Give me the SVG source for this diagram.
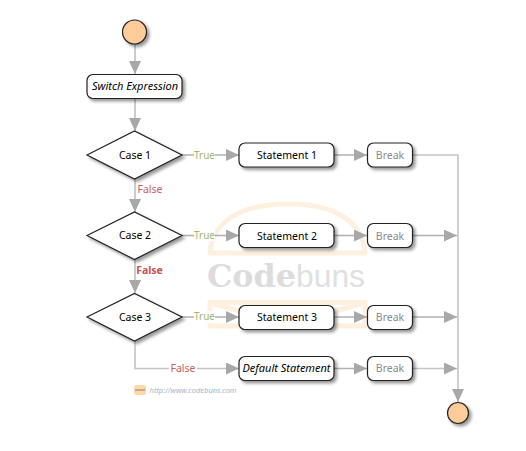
<svg xmlns="http://www.w3.org/2000/svg" width="526" height="451" viewBox="0 0 526 451">
<style>
text{font-family:"Noto Sans","DejaVu Sans",sans-serif;font-size:10.5px;text-anchor:middle}
.box{fill:#fff;stroke:#222;stroke-width:1.2}
.dot{fill:#fecc99;stroke:#222;stroke-width:1.2}
.c{fill:none;stroke:#b0b0b0;stroke-width:1.3}
.l{fill:none;stroke:#c4c4c4;stroke-width:1.6}
.n{fill:#000}
.i{font-style:italic;fill:#000;font-size:11px}
.b{fill:#8a8a8a}
.t{fill:#a3b86c;font-size:10px}
.f{fill:#c9605f;font-size:10.5px}
.wm{fill:none;stroke:#fdf0df;stroke-width:5;stroke-linejoin:round}
</style>
<defs>
<marker id="a" markerUnits="userSpaceOnUse" markerWidth="14" markerHeight="14" refX="13" refY="6" orient="auto"><path d="M0 0L13 6L0 12Z" fill="#a8a8a8"/></marker>
<filter id="s" x="-20%" y="-30%" width="150%" height="170%"><feDropShadow dx="2.5" dy="2.5" stdDeviation="1.5" flood-color="#000" flood-opacity=".4"/></filter>
</defs>
<g id="watermark">
<path class="wm" d="M210 253C212 222 240 204 288 204C336 204 363 222 365 253Z"/>
<path class="wm" d="M210 302.500H365V326H210Z"/>
<path class="wm" d="M214 304L287.500 324L361 304"/>
<text x="207" y="287" style="text-anchor:start;font-family:'DejaVu Serif',serif;font-size:31px;font-weight:bold;fill:#dcdcdc" textLength="89" lengthAdjust="spacingAndGlyphs">Code</text>
<text x="296" y="287" style="text-anchor:start;font-family:'Liberation Sans',sans-serif;font-size:32px;fill:#e0e0e0" textLength="69" lengthAdjust="spacingAndGlyphs">buns</text>
</g>
<g id="connectors">
<path class="c" d="M135 44V74" marker-end="url(#a)"/>
<path class="c" d="M135 98V131" marker-end="url(#a)"/>
<path class="c" d="M135 179V212" marker-end="url(#a)"/>
<path class="c" d="M135 259V293" marker-end="url(#a)"/>
<path class="c" d="M182 155H239" marker-end="url(#a)"/>
<path class="c" d="M182 235.500H239" marker-end="url(#a)"/>
<path class="c" d="M182 317H239" marker-end="url(#a)"/>
<path class="l" d="M135 341V368.500H239" marker-end="url(#a)"/>
<path class="c" d="M334 155H367" marker-end="url(#a)"/>
<path class="c" d="M334 235.500H367" marker-end="url(#a)"/>
<path class="c" d="M334 317H367" marker-end="url(#a)"/>
<path class="c" d="M334 368.500H367" marker-end="url(#a)"/>
<path class="l" d="M412 155H458V402" marker-end="url(#a)"/>
<path class="c" d="M412 235.500H457" marker-end="url(#a)"/>
<path class="c" d="M412 317H457" marker-end="url(#a)"/>
<path class="l" d="M412 368.500H457" marker-end="url(#a)"/>
<rect x="194" y="149" width="21" height="12" fill="#fff"/>
<rect x="194" y="229" width="21" height="12" fill="#fff" fill-opacity="0.9"/>
<rect x="194" y="311" width="21" height="12" fill="#fff" fill-opacity="0.9"/>
<rect x="169" y="362" width="28" height="13" fill="#fff"/>
<text class="t" x="204.500" y="158.500">True</text>
<text class="t" x="204.500" y="238.500">True</text>
<text class="t" x="204.500" y="320">True</text>
<text class="f" x="150" y="192.500">False</text>
<text class="f" x="149.500" y="273.500" style="font-weight:bold;fill:#c8524c">False</text>
<text class="f" x="183" y="372">False</text>
</g>
<g id="start"><circle class="dot" cx="134.500" cy="32" r="12" filter="url(#s)"/></g>
<g id="switch"><rect class="box" x="87" y="74.500" width="95" height="24" rx="6" filter="url(#s)"/><text class="i" x="135" y="90">Switch Expression</text></g>
<g id="case1"><path class="box" d="M87 155L134.500 131L182 155L134.500 179Z" filter="url(#s)"/><text class="n" x="135" y="158.500">Case 1</text></g>
<g id="case2"><path class="box" d="M87 235.500L134.500 212L182 235.500L134.500 259.500Z" filter="url(#s)"/><text class="n" x="135" y="239">Case 2</text></g>
<g id="case3"><path class="box" d="M87 317L134.500 293.500L182 317L134.500 341Z" filter="url(#s)"/><text class="n" x="135" y="320.500">Case 3</text></g>
<g id="statement1"><rect class="box" x="239" y="143" width="95" height="24" rx="6" filter="url(#s)"/><text class="n" x="287" y="159">Statement 1</text></g>
<g id="statement2"><rect class="box" x="239" y="223.500" width="95" height="24" rx="6" filter="url(#s)"/><text class="n" x="287" y="239.500">Statement 2</text></g>
<g id="statement3"><rect class="box" x="239" y="305.500" width="95" height="24" rx="6" filter="url(#s)"/><text class="n" x="287" y="321">Statement 3</text></g>
<g id="default"><rect class="box" x="239" y="356.500" width="95" height="24" rx="6" filter="url(#s)"/><text class="i" x="286.500" y="372">Default Statement</text></g>
<g id="break1"><rect class="box" x="367.500" y="143" width="45" height="24" rx="6" filter="url(#s)"/><text class="b" x="390" y="159">Break</text></g>
<g id="break2"><rect class="box" x="367.500" y="223.500" width="45" height="24" rx="6" filter="url(#s)"/><text class="b" x="390" y="239.500">Break</text></g>
<g id="break3"><rect class="box" x="367.500" y="305.500" width="45" height="24" rx="6" filter="url(#s)"/><text class="b" x="390" y="321">Break</text></g>
<g id="break4"><rect class="box" x="367.500" y="356.500" width="45" height="24" rx="6" filter="url(#s)"/><text class="b" x="390" y="372">Break</text></g>
<g id="end"><circle class="dot" cx="458" cy="413" r="10.500" filter="url(#s)"/></g>
<g id="credit">
<rect x="134" y="385" width="12" height="10" rx="2.500" fill="#fbd9a8"/>
<path d="M135 390H145" stroke="#a08a70" stroke-width="1.200"/>
<text x="193" y="393" style="font-size:7.500px;font-style:italic;fill:#a9b3c9">http://www.codebuns.com</text>
</g>
</svg>
